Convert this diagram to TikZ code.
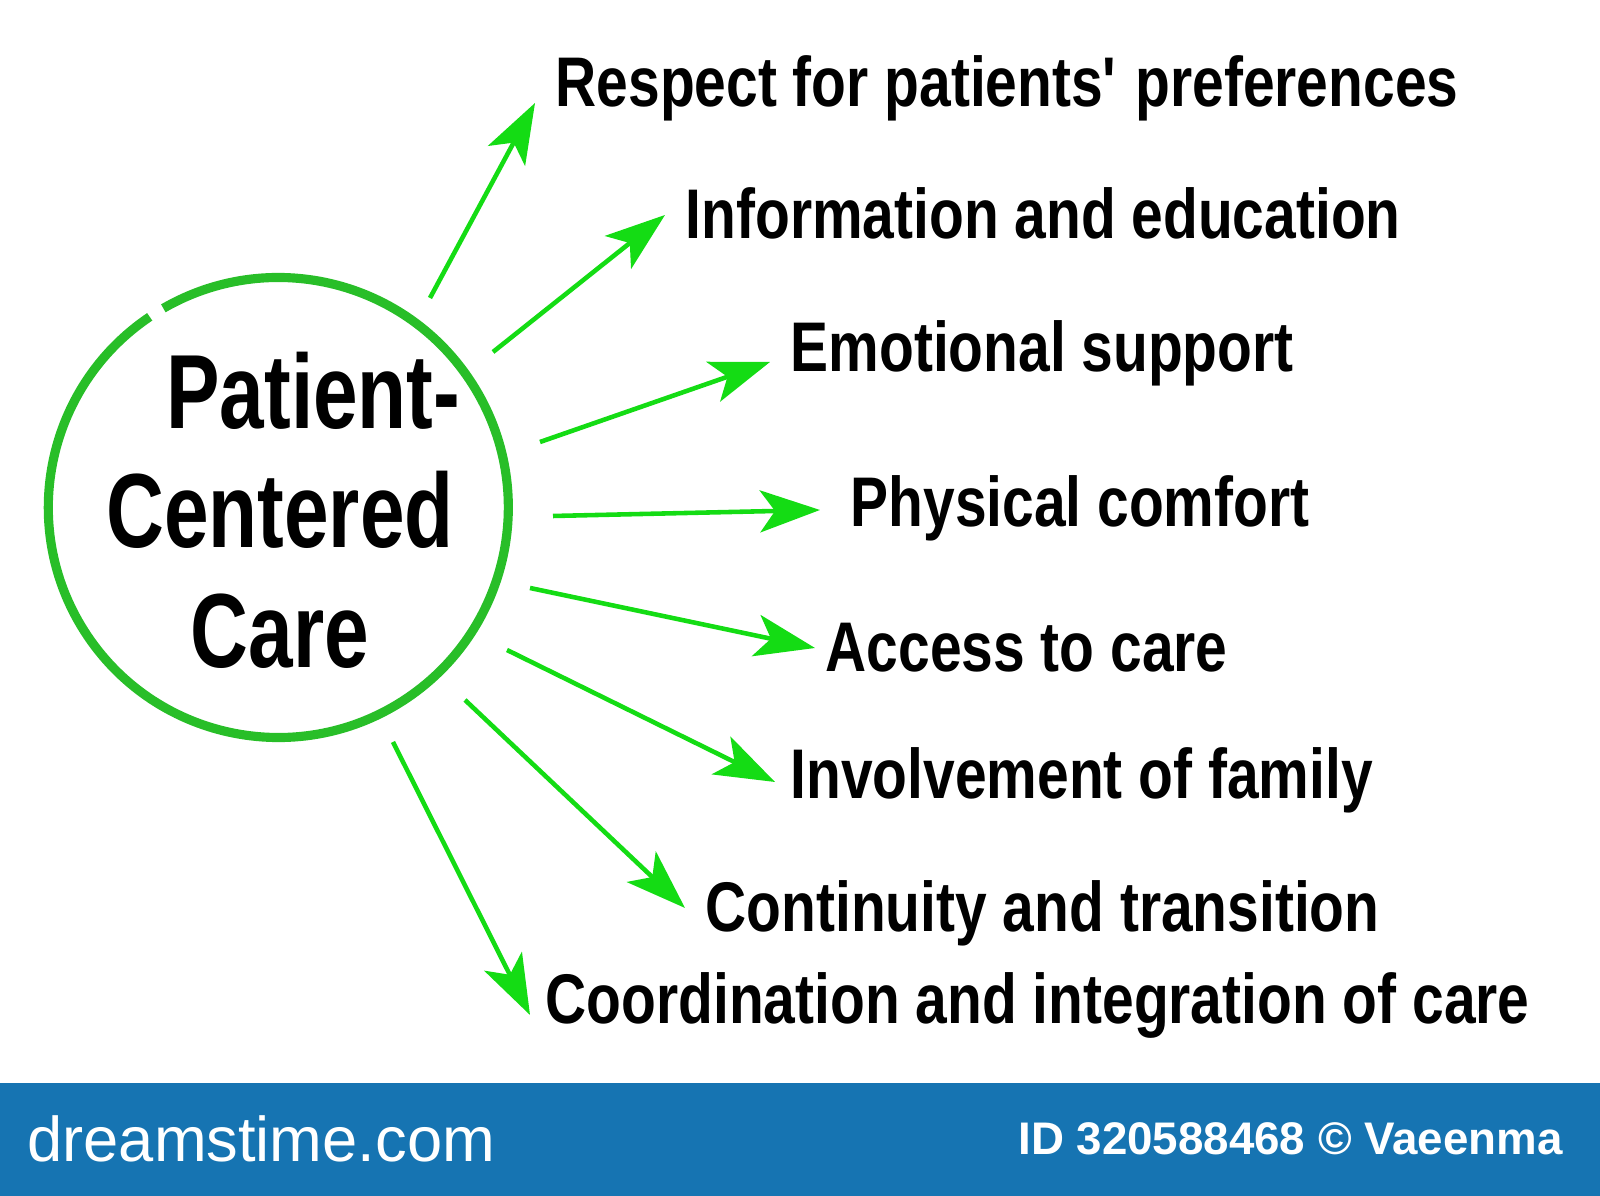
\documentclass[tikz,border=0pt]{standalone}
\usepackage{fontspec}
\setmainfont{Liberation Sans}
\newfontfamily\narrowfont[FakeStretch=0.81]{Liberation Sans}
\newfontfamily\corefont[FakeStretch=0.76]{Liberation Sans}
\usetikzlibrary{arrows.meta,positioning}
\definecolor{ringgreen}{RGB}{40,190,40}
\definecolor{arrowgreen}{RGB}{20,220,20}
\definecolor{barblue}{RGB}{22,116,178}
\tikzset{
  item/.style={anchor=west,inner sep=0pt,font=\narrowfont\bfseries\fontsize{20}{24}\selectfont},
  spoke/.style={arrowgreen,line width=1.3pt,-{Stealth[length=6mm,width=4.2mm,inset=1.5mm]}}
}
\begin{document}
\begin{tikzpicture}
  \useasboundingbox (0,0) rectangle (16,11.96);
  % ring
  \draw[ringgreen,line width=2.6pt] (2.8,6.86) ++(124:2.33) arc (124:480:2.3);
  \node[align=center,font=\corefont\bfseries\fontsize{30}{34}\selectfont] (core) at (2.8,6.86) {~~~Patient-\\Centered\\Care};
  % labels
  \node[item] (n1) at (5.55,11.08) {Respect for patients\textquotesingle{} preferences};
  \node[item] (n2) at (6.85,9.83) {Information and education};
  \node[item] (n3) at (7.9,8.43) {Emotional support};
  \node[item] (n4) at (8.5,6.88) {Physical comfort};
  \node[item] (n5) at (8.25,5.48) {Access to care};
  \node[item] (n6) at (7.9,4.16) {Involvement of family};
  \node[item] (n7) at (7.05,2.83) {Continuity and transition};
  \node[item] (n8) at (5.45,1.91) {Coordination and integration of care};
  % arrows
  \foreach \i/\sx/\sy/\ex/\ey in {1/4.30/8.98/5.35/10.93, 2/4.93/8.44/6.65/9.81,
      3/5.40/7.54/7.70/8.34, 4/5.53/6.80/8.20/6.86, 5/5.30/6.08/8.15/5.48,
      6/5.07/5.46/7.75/4.14, 7/4.65/4.96/6.85/2.88, 8/3.93/4.54/5.30/1.81} {
    \coordinate (s\i) at (\sx,\sy);
    \coordinate (e\i) at (\ex,\ey);
    \draw[spoke] (s\i) -- (e\i);
  }
  % credit bar
  \fill[barblue] (0,0) rectangle (16,1.13);
  \node[anchor=west,text=white,font=\fontsize{18}{20}\selectfont] (site) at (0.15,0.57) {dreamstime.com};
  \node[anchor=east,text=white,font=\fontsize{13}{15}\selectfont\bfseries] (credit) at (15.75,0.57) {ID 320588468 © Vaeenma};
\end{tikzpicture}
\end{document}
